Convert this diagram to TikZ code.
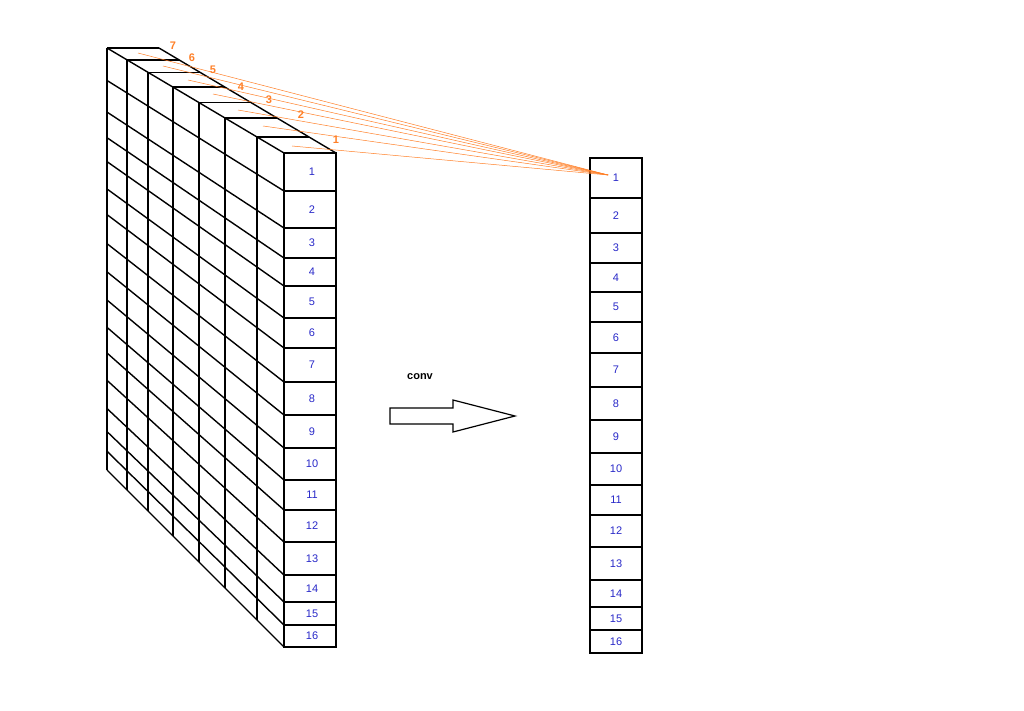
\documentclass[tikz,border=0pt]{standalone}
\usepackage{fontspec}
\setmainfont{Liberation Sans}
\usetikzlibrary{shapes.arrows}
\definecolor{numblue}{RGB}{40,40,200}
\definecolor{lineorange}{RGB}{255,127,39}
\tikzset{
  grid/.style={line width=1.4pt},
  num/.style={text=numblue, font=\fontsize{11}{13}\selectfont},
  depth/.style={text=lineorange, font=\fontsize{11}{13}\selectfont\bfseries},
  ray/.style={lineorange, line width=0.5pt}
}
\begin{document}
\begin{tikzpicture}[x=1pt,y=-1pt]
    \useasboundingbox (0,0) rectangle (1024,711);

    % Front face and side face rows
    \foreach \a/\b [count=\i] in {153/191,191/228,228/258,258/286,286/318,318/348,348/382,382/415,415/448,448/480,480/510,510/542,542/575,575/602,602/625,625/647}{
        \draw[grid] (284,\a) rectangle (336,\b);
        \draw[grid] (284,\a) -- (107,{48+(\a-153)*0.8543});
        \node[num] (f\i) at (312,{(\a+\b)/2}) {\i};
    }
    \draw[grid] (284,647) -- (107,470);

    % Column dividers and tops
    \foreach \x in {107,127,148,173,199,225,257}{
        \draw[grid] (\x,{48+(\x-107)*0.593}) -- (\x,{470+(\x-107)});
        \draw[grid] (\x,{48+(\x-107)*0.593}) -- (\x+52,{48+(\x-107)*0.593});
    }
    \draw[grid] (159,48) -- (336,153);

    % Output column
    \foreach \a/\b [count=\i] in {158/198,198/233,233/263,263/292,292/322,322/353,353/387,387/420,420/453,453/485,485/515,515/547,547/580,580/607,607/630,630/653}{
        \draw[grid] (590,\a) rectangle (642,\b);
        \node[num] (o\i) at (616,{(\a+\b)/2}) {\i};
    }

    % Rays from each channel
    \coordinate (hit) at (608,175);
    \foreach \x/\y/\lx/\ly [count=\i] in {292/146/336/140,263/126/301/115,238/110/269/100,213/94/241/87,188/80/213/70,163/66/192/58,138/53/173/46}{
        \coordinate (s\i) at (\x,\y);
        \draw[ray] (s\i) -- (hit);
        \node[depth] (d\i) at (\lx,\ly) {\i};
    }

    % Arrow
    \node[font=\fontsize{11}{13}\selectfont\bfseries] (conv) at (420,377) {conv};
    \draw[line width=1.2pt] (390,408) -- (453,408) -- (453,400) -- (515,416) -- (453,432) -- (453,424) -- (390,424) -- cycle;
\end{tikzpicture}
\end{document}
